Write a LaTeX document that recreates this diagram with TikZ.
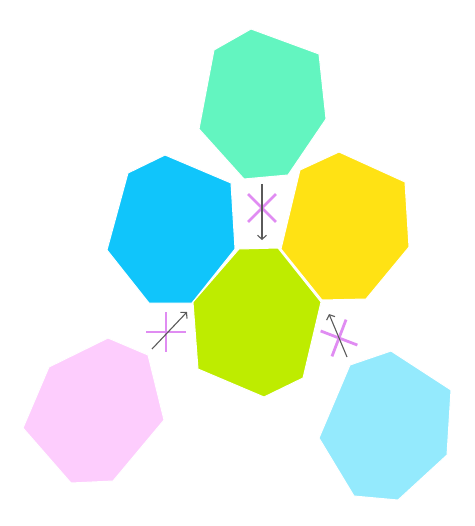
\documentclass[tikz,border=0pt]{standalone}
\usetikzlibrary{positioning,shapes.misc,arrows.meta}
\definecolor{mint}{HTML}{63F5C0}
\definecolor{skyblue}{HTML}{10C5FB}
\definecolor{sun}{HTML}{FFE214}
\definecolor{lime}{HTML}{BEEC00}
\definecolor{blush}{HTML}{FDCDFD}
\definecolor{ice}{HTML}{94EAFD}
\definecolor{lilac}{HTML}{E08CF2}
\definecolor{arrowgray}{HTML}{5A5A5A}

\begin{document}
\begin{tikzpicture}[x=1pt,y=-1pt,
  hepta/.style={draw=white, line width=1pt, line join=round},
  link/.style={-{Straight Barb[length=4pt,width=9pt]}, draw=arrowgray, line width=1.1pt},
  blocked/.style={cross out, draw=lilac, line width=2.8pt, minimum size=25pt, inner sep=0pt}]
\useasboundingbox (0,0) rectangle (474,526);
\filldraw[hepta, fill=mint] (251,29) -- (319,54) -- (326,119) -- (288,175) -- (244,179) -- (199,129) -- (214,50) -- cycle;
\filldraw[hepta, fill=skyblue] (165,155) -- (231,183) -- (235,249) -- (192,303) -- (149,303) -- (107,250) -- (128,173) -- cycle;
\filldraw[hepta, fill=sun] (339,152) -- (405,182) -- (409,247) -- (366,299) -- (322,300) -- (281,249) -- (300,170) -- cycle;
\filldraw[hepta, fill=blush] (108,338) -- (148,355) -- (164,420) -- (113,481) -- (71,483) -- (23,428) -- (49,367) -- cycle;
\filldraw[hepta, fill=ice] (391,351) -- (451,390) -- (447,455) -- (398,500) -- (354,496) -- (319,438) -- (350,365) -- cycle;
\filldraw[hepta, fill=lime] (239,249) -- (278,248) -- (321,302) -- (303,378) -- (264,397) -- (198,369) -- (193,302) -- cycle;
% blocked moves
\node[blocked] (xtop) at (262,208) {};
\node[blocked, rotate=45] (xleft) at (166,332) {};
\node[blocked, rotate=24] (xright) at (339,338) {};
\coordinate (topfrom) at (262,184);
\coordinate (topto) at (262,240);
\coordinate (leftfrom) at (152,349);
\coordinate (leftto) at (187,312);
\coordinate (rightfrom) at (347,357);
\coordinate (rightto) at (329,314);
\draw[link] (topfrom) -- (topto);
\draw[link] (leftfrom) -- (leftto);
\draw[link] (rightfrom) -- (rightto);
\end{tikzpicture}
\end{document}
